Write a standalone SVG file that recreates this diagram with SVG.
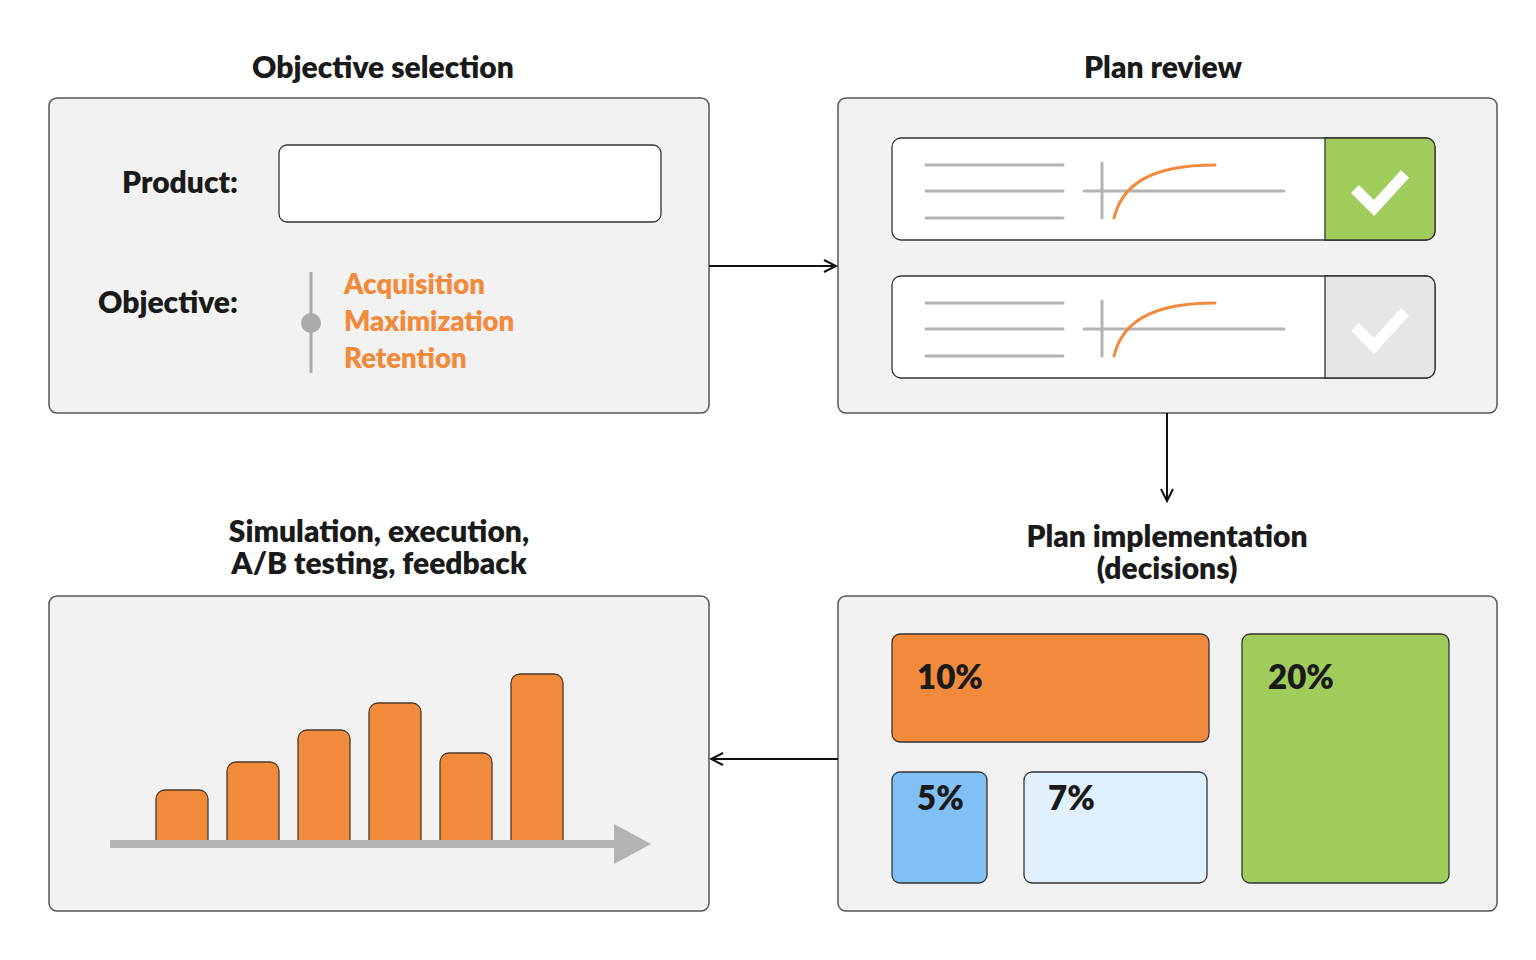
<svg xmlns="http://www.w3.org/2000/svg" width="1536" height="960" viewBox="0 0 1536 960">
<defs>
<style>
.panel{fill:#f2f2f2;stroke:#555;stroke-width:1.5}
.title{font-family:Lato,"Liberation Sans",sans-serif;font-weight:800;font-size:30px;fill:#1a1a1a;text-anchor:middle}
.label{font-family:Lato,"Liberation Sans",sans-serif;font-weight:800;font-size:30px;fill:#1a1a1a;text-anchor:end}
.opt{font-family:Lato,"Liberation Sans",sans-serif;font-weight:800;font-size:27.5px;fill:#f28a3c}
.pct{font-family:Lato,"Liberation Sans",sans-serif;font-weight:800;font-size:33px;fill:#1a1a1a}
.gl{stroke:#b3b3b3;stroke-width:3;stroke-linecap:round;fill:none}
.curve{stroke:#f28a3c;stroke-width:3;stroke-linecap:round;fill:none}
.card{fill:#fff;stroke:#333;stroke-width:1.3}
.bar{fill:#f28a3c;stroke:#4a3a2a;stroke-width:1.3}
.conn{stroke:#111;stroke-width:2;fill:none}
</style>
<marker id="arr" markerWidth="16" markerHeight="16" refX="14" refY="8" orient="auto" markerUnits="userSpaceOnUse">
<path d="M2,2 L14,8 L2,14" fill="none" stroke="#111" stroke-width="2"/>
</marker>
<g id="cardcontent">
<line class="gl" x1="926" y1="0" x2="1063" y2="0"/>
<line class="gl" x1="926" y1="26" x2="1063" y2="26"/>
<line class="gl" x1="926" y1="53" x2="1063" y2="53"/>
<line class="gl" x1="1102" y1="-2" x2="1102" y2="53"/>
<line class="gl" x1="1084" y1="26" x2="1284" y2="26"/>
<path class="curve" d="M1114,53 C1122,20 1150,0 1215,0"/>
</g>
</defs>
<rect width="1536" height="960" fill="#ffffff"/>

<g id="objective-selection">
<text class="title" x="383" y="78">Objective selection</text>
<rect class="panel" x="49" y="98" width="660" height="315" rx="8"/>
<text class="label" x="238" y="193">Product:</text>
<rect x="279" y="145" width="382" height="77" rx="8" fill="#fff" stroke="#333" stroke-width="1.3"/>
<text class="label" x="238" y="313">Objective:</text>
<line x1="311" y1="272" x2="311" y2="373" stroke="#aaa" stroke-width="3"/>
<circle cx="311" cy="323" r="10" fill="#aaa"/>
<text class="opt" x="344" y="294">Acquisition</text>
<text class="opt" x="344" y="331">Maximization</text>
<text class="opt" x="344" y="368">Retention</text>
</g>

<g id="plan-review">
<text class="title" x="1163" y="78">Plan review</text>
<rect class="panel" x="838" y="98" width="659" height="315" rx="8"/>
<rect class="card" x="892" y="138" width="543" height="102" rx="9"/>
<path d="M1325,138 H1426 A9,9 0 0 1 1435,147 V231 A9,9 0 0 1 1426,240 H1325 Z" fill="#a0cc5c" stroke="#333" stroke-width="1.3"/>
<use href="#cardcontent" y="165"/>
<polyline points="1355,189 1374,208 1405,174" fill="none" stroke="#fff" stroke-width="11"/>
<rect class="card" x="892" y="276" width="543" height="102" rx="9"/>
<path d="M1325,276 H1426 A9,9 0 0 1 1435,285 V369 A9,9 0 0 1 1426,378 H1325 Z" fill="#e6e6e6" stroke="#333" stroke-width="1.3"/>
<use href="#cardcontent" y="303"/>
<polyline points="1355,327 1374,346 1405,312" fill="none" stroke="#fff" stroke-width="11"/>
</g>

<g id="plan-implementation">
<text class="title" x="1167" y="547">Plan implementation</text>
<text class="title" x="1167" y="579">(decisions)</text>
<rect class="panel" x="838" y="596" width="659" height="315" rx="8"/>
<rect x="892" y="634" width="317" height="108" rx="8" fill="#f28a3c" stroke="#333" stroke-width="1.3"/>
<text class="pct" x="917" y="689">10%</text>
<rect x="1242" y="634" width="207" height="249" rx="8" fill="#a0cc5c" stroke="#333" stroke-width="1.3"/>
<text class="pct" x="1268" y="689">20%</text>
<rect x="892" y="772" width="95" height="111" rx="8" fill="#80c0f5" stroke="#333" stroke-width="1.3"/>
<text class="pct" x="917" y="810">5%</text>
<rect x="1024" y="772" width="183" height="111" rx="8" fill="#e0f0fc" stroke="#333" stroke-width="1.3"/>
<text class="pct" x="1048" y="810">7%</text>
</g>

<g id="simulation">
<text class="title" x="379" y="542">Simulation, execution,</text>
<text class="title" x="379" y="574">A/B testing, feedback</text>
<rect class="panel" x="49" y="596" width="660" height="315" rx="8"/>
<path class="bar" d="M156,843 V799 A9,9 0 0 1 165,790 H199 A9,9 0 0 1 208,799 V843"/>
<path class="bar" d="M227,843 V771 A9,9 0 0 1 236,762 H270 A9,9 0 0 1 279,771 V843"/>
<path class="bar" d="M298,843 V739 A9,9 0 0 1 307,730 H341 A9,9 0 0 1 350,739 V843"/>
<path class="bar" d="M369,843 V712 A9,9 0 0 1 378,703 H412 A9,9 0 0 1 421,712 V843"/>
<path class="bar" d="M440,843 V762 A9,9 0 0 1 449,753 H483 A9,9 0 0 1 492,762 V843"/>
<path class="bar" d="M511,843 V683 A9,9 0 0 1 520,674 H554 A9,9 0 0 1 563,683 V843"/>
<line x1="110" y1="844" x2="616" y2="844" stroke="#b3b3b3" stroke-width="8"/>
<polygon points="614,824 651,844 614,864" fill="#b3b3b3"/>
</g>

<g id="connectors">
<line class="conn" x1="709" y1="266" x2="836" y2="266" marker-end="url(#arr)"/>
<line class="conn" x1="1167" y1="413" x2="1167" y2="501" marker-end="url(#arr)"/>
<line class="conn" x1="838" y1="759" x2="711" y2="759" marker-end="url(#arr)"/>
</g>
</svg>
